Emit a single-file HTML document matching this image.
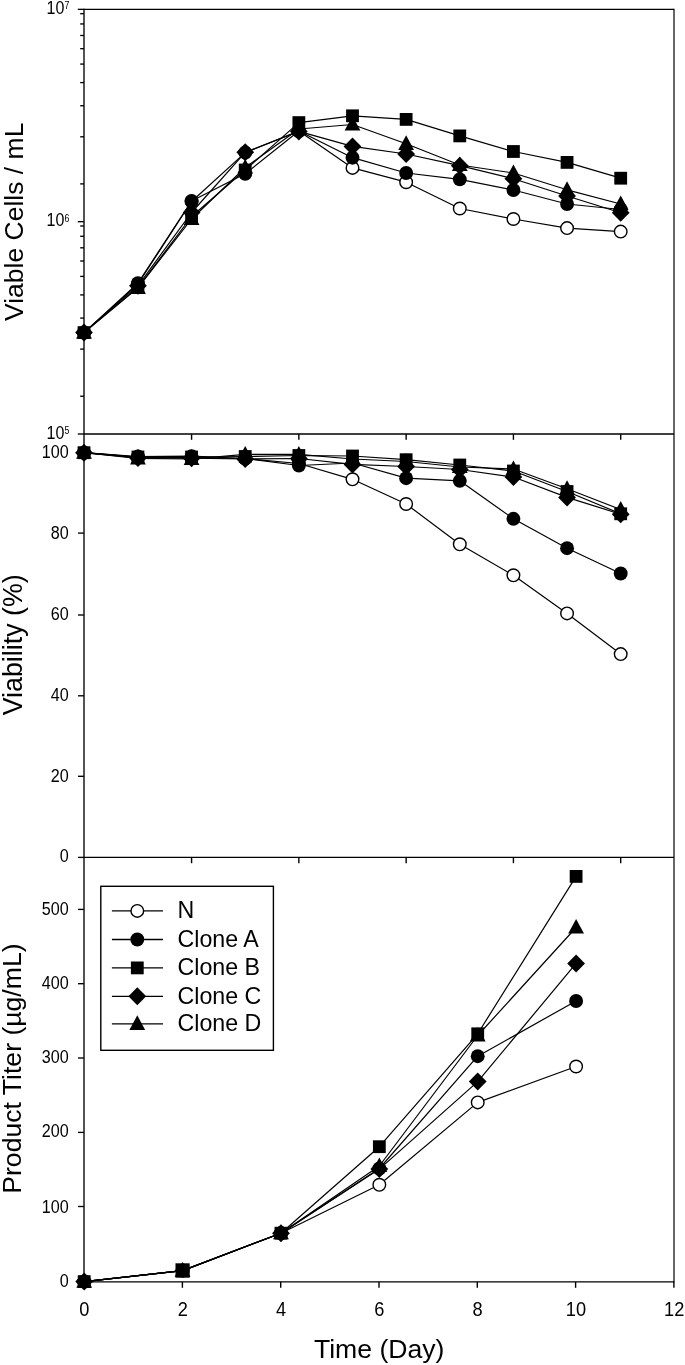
<!DOCTYPE html>
<html lang="en"><head><meta charset="utf-8"><title>Cell culture profiles</title>
<style>html,body{margin:0;padding:0;background:#fff}svg{display:block}</style></head>
<body>
<svg width="685" height="1365" viewBox="0 0 685 1365" font-family='"Liberation Sans", sans-serif' fill="#000">
<rect width="685" height="1365" fill="#fff"/>
<line x1="84" y1="9.35" x2="674" y2="9.35" stroke="#000" stroke-width="1.35" stroke-linecap="butt"/>
<line x1="84" y1="434" x2="674" y2="434" stroke="#000" stroke-width="1.35" stroke-linecap="butt"/>
<line x1="84" y1="857.4" x2="674" y2="857.4" stroke="#000" stroke-width="1.35" stroke-linecap="butt"/>
<line x1="84" y1="1281.8" x2="674" y2="1281.8" stroke="#000" stroke-width="1.35" stroke-linecap="butt"/>
<line x1="84" y1="8.85" x2="84" y2="1282.3" stroke="#000" stroke-width="1.35" stroke-linecap="butt"/>
<line x1="674" y1="8.85" x2="674" y2="1282.3" stroke="#000" stroke-width="1.2" stroke-linecap="butt"/>
<line x1="77.8" y1="434" x2="84" y2="434" stroke="#000" stroke-width="1.35" stroke-linecap="butt"/>
<line x1="77.8" y1="221.68" x2="84" y2="221.68" stroke="#000" stroke-width="1.35" stroke-linecap="butt"/>
<line x1="77.8" y1="9.35" x2="84" y2="9.35" stroke="#000" stroke-width="1.35" stroke-linecap="butt"/>
<line x1="80.2" y1="396.21" x2="84" y2="396.21" stroke="#000" stroke-width="1.35" stroke-linecap="butt"/>
<line x1="80.2" y1="349.11" x2="84" y2="349.11" stroke="#000" stroke-width="1.35" stroke-linecap="butt"/>
<line x1="80.2" y1="318.08" x2="84" y2="318.08" stroke="#000" stroke-width="1.35" stroke-linecap="butt"/>
<line x1="80.2" y1="294.91" x2="84" y2="294.91" stroke="#000" stroke-width="1.35" stroke-linecap="butt"/>
<line x1="80.2" y1="276.4" x2="84" y2="276.4" stroke="#000" stroke-width="1.35" stroke-linecap="butt"/>
<line x1="80.2" y1="261" x2="84" y2="261" stroke="#000" stroke-width="1.35" stroke-linecap="butt"/>
<line x1="80.2" y1="247.8" x2="84" y2="247.8" stroke="#000" stroke-width="1.35" stroke-linecap="butt"/>
<line x1="80.2" y1="236.26" x2="84" y2="236.26" stroke="#000" stroke-width="1.35" stroke-linecap="butt"/>
<line x1="80.2" y1="226" x2="84" y2="226" stroke="#000" stroke-width="1.35" stroke-linecap="butt"/>
<line x1="80.2" y1="183.89" x2="84" y2="183.89" stroke="#000" stroke-width="1.35" stroke-linecap="butt"/>
<line x1="80.2" y1="136.78" x2="84" y2="136.78" stroke="#000" stroke-width="1.35" stroke-linecap="butt"/>
<line x1="80.2" y1="105.76" x2="84" y2="105.76" stroke="#000" stroke-width="1.35" stroke-linecap="butt"/>
<line x1="80.2" y1="82.58" x2="84" y2="82.58" stroke="#000" stroke-width="1.35" stroke-linecap="butt"/>
<line x1="80.2" y1="64.08" x2="84" y2="64.08" stroke="#000" stroke-width="1.35" stroke-linecap="butt"/>
<line x1="80.2" y1="48.67" x2="84" y2="48.67" stroke="#000" stroke-width="1.35" stroke-linecap="butt"/>
<line x1="80.2" y1="35.48" x2="84" y2="35.48" stroke="#000" stroke-width="1.35" stroke-linecap="butt"/>
<line x1="80.2" y1="23.94" x2="84" y2="23.94" stroke="#000" stroke-width="1.35" stroke-linecap="butt"/>
<line x1="80.2" y1="13.68" x2="84" y2="13.68" stroke="#000" stroke-width="1.35" stroke-linecap="butt"/>
<line x1="191.58" y1="434" x2="191.58" y2="439.8" stroke="#000" stroke-width="1.4" stroke-linecap="butt"/>
<line x1="298.86" y1="434" x2="298.86" y2="439.8" stroke="#000" stroke-width="1.4" stroke-linecap="butt"/>
<line x1="406.14" y1="434" x2="406.14" y2="439.8" stroke="#000" stroke-width="1.4" stroke-linecap="butt"/>
<line x1="513.42" y1="434" x2="513.42" y2="439.8" stroke="#000" stroke-width="1.4" stroke-linecap="butt"/>
<line x1="620.7" y1="434" x2="620.7" y2="439.8" stroke="#000" stroke-width="1.4" stroke-linecap="butt"/>
<line x1="191.58" y1="857.4" x2="191.58" y2="863.2" stroke="#000" stroke-width="1.4" stroke-linecap="butt"/>
<line x1="298.86" y1="857.4" x2="298.86" y2="863.2" stroke="#000" stroke-width="1.4" stroke-linecap="butt"/>
<line x1="406.14" y1="857.4" x2="406.14" y2="863.2" stroke="#000" stroke-width="1.4" stroke-linecap="butt"/>
<line x1="513.42" y1="857.4" x2="513.42" y2="863.2" stroke="#000" stroke-width="1.4" stroke-linecap="butt"/>
<line x1="620.7" y1="857.4" x2="620.7" y2="863.2" stroke="#000" stroke-width="1.4" stroke-linecap="butt"/>
<line x1="84.1" y1="1281.8" x2="84.1" y2="1287.8" stroke="#000" stroke-width="1.4" stroke-linecap="butt"/>
<line x1="182.4" y1="1281.8" x2="182.4" y2="1287.8" stroke="#000" stroke-width="1.4" stroke-linecap="butt"/>
<line x1="280.7" y1="1281.8" x2="280.7" y2="1287.8" stroke="#000" stroke-width="1.4" stroke-linecap="butt"/>
<line x1="379" y1="1281.8" x2="379" y2="1287.8" stroke="#000" stroke-width="1.4" stroke-linecap="butt"/>
<line x1="477.3" y1="1281.8" x2="477.3" y2="1287.8" stroke="#000" stroke-width="1.4" stroke-linecap="butt"/>
<line x1="575.6" y1="1281.8" x2="575.6" y2="1287.8" stroke="#000" stroke-width="1.4" stroke-linecap="butt"/>
<line x1="673.9" y1="1281.8" x2="673.9" y2="1287.8" stroke="#000" stroke-width="1.4" stroke-linecap="butt"/>
<line x1="78" y1="857.4" x2="84" y2="857.4" stroke="#000" stroke-width="1.35" stroke-linecap="butt"/>
<line x1="78" y1="776.3" x2="84" y2="776.3" stroke="#000" stroke-width="1.35" stroke-linecap="butt"/>
<line x1="78" y1="695.8" x2="84" y2="695.8" stroke="#000" stroke-width="1.35" stroke-linecap="butt"/>
<line x1="78" y1="615" x2="84" y2="615" stroke="#000" stroke-width="1.35" stroke-linecap="butt"/>
<line x1="78" y1="533.1" x2="84" y2="533.1" stroke="#000" stroke-width="1.35" stroke-linecap="butt"/>
<line x1="78" y1="452.7" x2="84" y2="452.7" stroke="#000" stroke-width="1.35" stroke-linecap="butt"/>
<line x1="78" y1="1281.8" x2="84" y2="1281.8" stroke="#000" stroke-width="1.35" stroke-linecap="butt"/>
<line x1="78" y1="1206.5" x2="84" y2="1206.5" stroke="#000" stroke-width="1.35" stroke-linecap="butt"/>
<line x1="78" y1="1132.4" x2="84" y2="1132.4" stroke="#000" stroke-width="1.35" stroke-linecap="butt"/>
<line x1="78" y1="1058" x2="84" y2="1058" stroke="#000" stroke-width="1.35" stroke-linecap="butt"/>
<line x1="78" y1="983.7" x2="84" y2="983.7" stroke="#000" stroke-width="1.35" stroke-linecap="butt"/>
<line x1="78" y1="909.4" x2="84" y2="909.4" stroke="#000" stroke-width="1.35" stroke-linecap="butt"/>
<text transform="translate(68.8,862.3) scale(0.855,1)" text-anchor="end" font-size="18.9">0</text>
<text transform="translate(68.8,781.6) scale(0.855,1)" text-anchor="end" font-size="18.9">20</text>
<text transform="translate(68.8,700.8) scale(0.855,1)" text-anchor="end" font-size="18.9">40</text>
<text transform="translate(68.8,620.1) scale(0.855,1)" text-anchor="end" font-size="18.9">60</text>
<text transform="translate(68.8,539.3) scale(0.855,1)" text-anchor="end" font-size="18.9">80</text>
<text transform="translate(68.8,458.3) scale(0.855,1)" text-anchor="end" font-size="18.9">100</text>
<text transform="translate(68.8,1286.8) scale(0.855,1)" text-anchor="end" font-size="18.9">0</text>
<text transform="translate(68.8,1212.5) scale(0.855,1)" text-anchor="end" font-size="18.9">100</text>
<text transform="translate(68.8,1136.8) scale(0.855,1)" text-anchor="end" font-size="18.9">200</text>
<text transform="translate(68.8,1062.9) scale(0.855,1)" text-anchor="end" font-size="18.9">300</text>
<text transform="translate(68.8,988.6) scale(0.855,1)" text-anchor="end" font-size="18.9">400</text>
<text transform="translate(68.8,914.6) scale(0.855,1)" text-anchor="end" font-size="18.9">500</text>
<text transform="translate(64.3,438.65) scale(0.875,1)" text-anchor="end" font-size="18.3">10</text>
<text transform="translate(64.4,433.9) scale(0.83,1)" font-size="10.6">5</text>
<text transform="translate(64.3,226.33) scale(0.875,1)" text-anchor="end" font-size="18.3">10</text>
<text transform="translate(64.4,221.58) scale(0.83,1)" font-size="10.6">6</text>
<text transform="translate(64.3,14) scale(0.875,1)" text-anchor="end" font-size="18.3">10</text>
<text transform="translate(64.4,9.25) scale(0.83,1)" font-size="10.6">7</text>
<text transform="translate(84.4,1315.6) scale(0.92,1)" text-anchor="middle" font-size="19.8">0</text>
<text transform="translate(182.7,1315.6) scale(0.92,1)" text-anchor="middle" font-size="19.8">2</text>
<text transform="translate(281,1315.6) scale(0.92,1)" text-anchor="middle" font-size="19.8">4</text>
<text transform="translate(379.3,1315.6) scale(0.92,1)" text-anchor="middle" font-size="19.8">6</text>
<text transform="translate(477.6,1315.6) scale(0.92,1)" text-anchor="middle" font-size="19.8">8</text>
<text transform="translate(575.9,1315.6) scale(0.92,1)" text-anchor="middle" font-size="19.8">10</text>
<text transform="translate(674.2,1315.6) scale(0.92,1)" text-anchor="middle" font-size="19.8">12</text>
<text x="379.2" y="1357.7" text-anchor="middle" font-size="26.6">Time (Day)</text>
<text transform="translate(23.4,221.8) rotate(-90)" text-anchor="middle" font-size="26.5">Viable Cells / mL</text>
<text transform="translate(21.9,644.8) rotate(-90)" text-anchor="middle" font-size="26.8">Viability (%)</text>
<text transform="translate(21.4,1068.6) rotate(-90)" text-anchor="middle" font-size="26.6">Product Titer (µg/mL)</text>
<polyline points="84,332.6 137.94,284 191.58,201.5 245.22,152.6 298.86,131 352.5,167.9 406.14,182.2 459.78,208.5 513.42,219 567.06,228.1 620.7,231.6" fill="none" stroke="#000" stroke-width="1.2" stroke-linejoin="round"/>
<circle cx="84" cy="332.6" r="6.3" fill="#fff" stroke="#000" stroke-width="1.4"/>
<circle cx="137.94" cy="284" r="6.3" fill="#fff" stroke="#000" stroke-width="1.4"/>
<circle cx="191.58" cy="201.5" r="6.3" fill="#fff" stroke="#000" stroke-width="1.4"/>
<circle cx="245.22" cy="152.6" r="6.3" fill="#fff" stroke="#000" stroke-width="1.4"/>
<circle cx="298.86" cy="131" r="6.3" fill="#fff" stroke="#000" stroke-width="1.4"/>
<circle cx="352.5" cy="167.9" r="6.3" fill="#fff" stroke="#000" stroke-width="1.4"/>
<circle cx="406.14" cy="182.2" r="6.3" fill="#fff" stroke="#000" stroke-width="1.4"/>
<circle cx="459.78" cy="208.5" r="6.3" fill="#fff" stroke="#000" stroke-width="1.4"/>
<circle cx="513.42" cy="219" r="6.3" fill="#fff" stroke="#000" stroke-width="1.4"/>
<circle cx="567.06" cy="228.1" r="6.3" fill="#fff" stroke="#000" stroke-width="1.4"/>
<circle cx="620.7" cy="231.6" r="6.3" fill="#fff" stroke="#000" stroke-width="1.4"/>
<polyline points="84,332.6 137.94,283.2 191.58,201 245.22,173.8 298.86,131 352.5,157.7 406.14,173 459.78,179.3 513.42,190 567.06,204 620.7,209.5" fill="none" stroke="#000" stroke-width="1.2" stroke-linejoin="round"/>
<circle cx="84" cy="332.6" r="6.95" fill="#000"/>
<circle cx="137.94" cy="283.2" r="6.95" fill="#000"/>
<circle cx="191.58" cy="201" r="6.95" fill="#000"/>
<circle cx="245.22" cy="173.8" r="6.95" fill="#000"/>
<circle cx="298.86" cy="131" r="6.95" fill="#000"/>
<circle cx="352.5" cy="157.7" r="6.95" fill="#000"/>
<circle cx="406.14" cy="173" r="6.95" fill="#000"/>
<circle cx="459.78" cy="179.3" r="6.95" fill="#000"/>
<circle cx="513.42" cy="190" r="6.95" fill="#000"/>
<circle cx="567.06" cy="204" r="6.95" fill="#000"/>
<circle cx="620.7" cy="209.5" r="6.95" fill="#000"/>
<polyline points="84,332.6 137.94,287.6 191.58,216.5 245.22,170 298.86,122.6 352.5,115.8 406.14,119.4 459.78,135.9 513.42,151.5 567.06,162.4 620.7,178.2" fill="none" stroke="#000" stroke-width="1.2" stroke-linejoin="round"/>
<rect x="77.6" y="326.2" width="12.8" height="12.8" fill="#000"/>
<rect x="131.54" y="281.2" width="12.8" height="12.8" fill="#000"/>
<rect x="185.18" y="210.1" width="12.8" height="12.8" fill="#000"/>
<rect x="238.82" y="163.6" width="12.8" height="12.8" fill="#000"/>
<rect x="292.46" y="116.2" width="12.8" height="12.8" fill="#000"/>
<rect x="346.1" y="109.4" width="12.8" height="12.8" fill="#000"/>
<rect x="399.74" y="113" width="12.8" height="12.8" fill="#000"/>
<rect x="453.38" y="129.5" width="12.8" height="12.8" fill="#000"/>
<rect x="507.02" y="145.1" width="12.8" height="12.8" fill="#000"/>
<rect x="560.66" y="156" width="12.8" height="12.8" fill="#000"/>
<rect x="614.3" y="171.8" width="12.8" height="12.8" fill="#000"/>
<polyline points="84,332.6 137.94,285.8 191.58,212.5 245.22,152.3 298.86,131.4 352.5,146.4 406.14,154 459.78,165.7 513.42,178.7 567.06,196 620.7,212.7" fill="none" stroke="#000" stroke-width="1.2" stroke-linejoin="round"/>
<polygon points="84,323.6 92.9,332.6 84,341.6 75.1,332.6" fill="#000"/>
<polygon points="137.94,276.8 146.84,285.8 137.94,294.8 129.04,285.8" fill="#000"/>
<polygon points="191.58,203.5 200.48,212.5 191.58,221.5 182.68,212.5" fill="#000"/>
<polygon points="245.22,143.3 254.12,152.3 245.22,161.3 236.32,152.3" fill="#000"/>
<polygon points="298.86,122.4 307.76,131.4 298.86,140.4 289.96,131.4" fill="#000"/>
<polygon points="352.5,137.4 361.4,146.4 352.5,155.4 343.6,146.4" fill="#000"/>
<polygon points="406.14,145 415.04,154 406.14,163 397.24,154" fill="#000"/>
<polygon points="459.78,156.7 468.68,165.7 459.78,174.7 450.88,165.7" fill="#000"/>
<polygon points="513.42,169.7 522.32,178.7 513.42,187.7 504.52,178.7" fill="#000"/>
<polygon points="567.06,187 575.96,196 567.06,205 558.16,196" fill="#000"/>
<polygon points="620.7,203.7 629.6,212.7 620.7,221.7 611.8,212.7" fill="#000"/>
<polyline points="84,332.6 137.94,287.8 191.58,219 245.22,167.5 298.86,129 352.5,124.5 406.14,143.8 459.78,165 513.42,173 567.06,189.8 620.7,204" fill="none" stroke="#000" stroke-width="1.2" stroke-linejoin="round"/>
<polygon points="84,324.1 91.9,338.7 76.1,338.7" fill="#000"/>
<polygon points="137.94,279.3 145.84,293.9 130.04,293.9" fill="#000"/>
<polygon points="191.58,210.5 199.48,225.1 183.68,225.1" fill="#000"/>
<polygon points="245.22,159 253.12,173.6 237.32,173.6" fill="#000"/>
<polygon points="298.86,120.5 306.76,135.1 290.96,135.1" fill="#000"/>
<polygon points="352.5,116 360.4,130.6 344.6,130.6" fill="#000"/>
<polygon points="406.14,135.3 414.04,149.9 398.24,149.9" fill="#000"/>
<polygon points="459.78,156.5 467.68,171.1 451.88,171.1" fill="#000"/>
<polygon points="513.42,164.5 521.32,179.1 505.52,179.1" fill="#000"/>
<polygon points="567.06,181.3 574.96,195.9 559.16,195.9" fill="#000"/>
<polygon points="620.7,195.5 628.6,210.1 612.8,210.1" fill="#000"/>
<polyline points="84,452.7 137.94,457.4 191.58,457.6 245.22,458.5 298.86,463.5 352.5,479.3 406.14,504 459.78,544.3 513.42,575.3 567.06,613.4 620.7,654.1" fill="none" stroke="#000" stroke-width="1.2" stroke-linejoin="round"/>
<circle cx="84" cy="452.7" r="6.3" fill="#fff" stroke="#000" stroke-width="1.4"/>
<circle cx="137.94" cy="457.4" r="6.3" fill="#fff" stroke="#000" stroke-width="1.4"/>
<circle cx="191.58" cy="457.6" r="6.3" fill="#fff" stroke="#000" stroke-width="1.4"/>
<circle cx="245.22" cy="458.5" r="6.3" fill="#fff" stroke="#000" stroke-width="1.4"/>
<circle cx="298.86" cy="463.5" r="6.3" fill="#fff" stroke="#000" stroke-width="1.4"/>
<circle cx="352.5" cy="479.3" r="6.3" fill="#fff" stroke="#000" stroke-width="1.4"/>
<circle cx="406.14" cy="504" r="6.3" fill="#fff" stroke="#000" stroke-width="1.4"/>
<circle cx="459.78" cy="544.3" r="6.3" fill="#fff" stroke="#000" stroke-width="1.4"/>
<circle cx="513.42" cy="575.3" r="6.3" fill="#fff" stroke="#000" stroke-width="1.4"/>
<circle cx="567.06" cy="613.4" r="6.3" fill="#fff" stroke="#000" stroke-width="1.4"/>
<circle cx="620.7" cy="654.1" r="6.3" fill="#fff" stroke="#000" stroke-width="1.4"/>
<polyline points="84,452.7 137.94,456.5 191.58,456.2 245.22,458.5 298.86,465.5 352.5,463 406.14,478.2 459.78,480.8 513.42,518.8 567.06,548.2 620.7,573.5" fill="none" stroke="#000" stroke-width="1.2" stroke-linejoin="round"/>
<circle cx="84" cy="452.7" r="6.95" fill="#000"/>
<circle cx="137.94" cy="456.5" r="6.95" fill="#000"/>
<circle cx="191.58" cy="456.2" r="6.95" fill="#000"/>
<circle cx="245.22" cy="458.5" r="6.95" fill="#000"/>
<circle cx="298.86" cy="465.5" r="6.95" fill="#000"/>
<circle cx="352.5" cy="463" r="6.95" fill="#000"/>
<circle cx="406.14" cy="478.2" r="6.95" fill="#000"/>
<circle cx="459.78" cy="480.8" r="6.95" fill="#000"/>
<circle cx="513.42" cy="518.8" r="6.95" fill="#000"/>
<circle cx="567.06" cy="548.2" r="6.95" fill="#000"/>
<circle cx="620.7" cy="573.5" r="6.95" fill="#000"/>
<polyline points="84,452.7 137.94,457 191.58,457 245.22,456.5 298.86,455.5 352.5,456 406.14,459.7 459.78,465 513.42,471 567.06,491.5 620.7,513.8" fill="none" stroke="#000" stroke-width="1.2" stroke-linejoin="round"/>
<rect x="77.6" y="446.3" width="12.8" height="12.8" fill="#000"/>
<rect x="131.54" y="450.6" width="12.8" height="12.8" fill="#000"/>
<rect x="185.18" y="450.6" width="12.8" height="12.8" fill="#000"/>
<rect x="238.82" y="450.1" width="12.8" height="12.8" fill="#000"/>
<rect x="292.46" y="449.1" width="12.8" height="12.8" fill="#000"/>
<rect x="346.1" y="449.6" width="12.8" height="12.8" fill="#000"/>
<rect x="399.74" y="453.3" width="12.8" height="12.8" fill="#000"/>
<rect x="453.38" y="458.6" width="12.8" height="12.8" fill="#000"/>
<rect x="507.02" y="464.6" width="12.8" height="12.8" fill="#000"/>
<rect x="560.66" y="485.1" width="12.8" height="12.8" fill="#000"/>
<rect x="614.3" y="507.4" width="12.8" height="12.8" fill="#000"/>
<polyline points="84,452.7 137.94,457.9 191.58,458.2 245.22,459 298.86,458.5 352.5,464.4 406.14,466.5 459.78,469.5 513.42,477 567.06,497.4 620.7,514.2" fill="none" stroke="#000" stroke-width="1.2" stroke-linejoin="round"/>
<polygon points="84,443.7 92.9,452.7 84,461.7 75.1,452.7" fill="#000"/>
<polygon points="137.94,448.9 146.84,457.9 137.94,466.9 129.04,457.9" fill="#000"/>
<polygon points="191.58,449.2 200.48,458.2 191.58,467.2 182.68,458.2" fill="#000"/>
<polygon points="245.22,450 254.12,459 245.22,468 236.32,459" fill="#000"/>
<polygon points="298.86,449.5 307.76,458.5 298.86,467.5 289.96,458.5" fill="#000"/>
<polygon points="352.5,455.4 361.4,464.4 352.5,473.4 343.6,464.4" fill="#000"/>
<polygon points="406.14,457.5 415.04,466.5 406.14,475.5 397.24,466.5" fill="#000"/>
<polygon points="459.78,460.5 468.68,469.5 459.78,478.5 450.88,469.5" fill="#000"/>
<polygon points="513.42,468 522.32,477 513.42,486 504.52,477" fill="#000"/>
<polygon points="567.06,488.4 575.96,497.4 567.06,506.4 558.16,497.4" fill="#000"/>
<polygon points="620.7,505.2 629.6,514.2 620.7,523.2 611.8,514.2" fill="#000"/>
<polyline points="84,452.7 137.94,458.4 191.58,459 245.22,454.4 298.86,454.4 352.5,459 406.14,461.5 459.78,467 513.42,469 567.06,488.7 620.7,509.5" fill="none" stroke="#000" stroke-width="1.2" stroke-linejoin="round"/>
<polygon points="84,444.2 91.9,458.8 76.1,458.8" fill="#000"/>
<polygon points="137.94,449.9 145.84,464.5 130.04,464.5" fill="#000"/>
<polygon points="191.58,450.5 199.48,465.1 183.68,465.1" fill="#000"/>
<polygon points="245.22,445.9 253.12,460.5 237.32,460.5" fill="#000"/>
<polygon points="298.86,445.9 306.76,460.5 290.96,460.5" fill="#000"/>
<polygon points="352.5,450.5 360.4,465.1 344.6,465.1" fill="#000"/>
<polygon points="406.14,453 414.04,467.6 398.24,467.6" fill="#000"/>
<polygon points="459.78,458.5 467.68,473.1 451.88,473.1" fill="#000"/>
<polygon points="513.42,460.5 521.32,475.1 505.52,475.1" fill="#000"/>
<polygon points="567.06,480.2 574.96,494.8 559.16,494.8" fill="#000"/>
<polygon points="620.7,501 628.6,515.6 612.8,515.6" fill="#000"/>
<polyline points="84.2,1281.6 182.58,1270.6 280.96,1233.2 379.34,1184.8 477.72,1102.4 576.1,1066.5" fill="none" stroke="#000" stroke-width="1.2" stroke-linejoin="round"/>
<circle cx="84.2" cy="1281.6" r="6.3" fill="#fff" stroke="#000" stroke-width="1.4"/>
<circle cx="182.58" cy="1270.6" r="6.3" fill="#fff" stroke="#000" stroke-width="1.4"/>
<circle cx="280.96" cy="1233.2" r="6.3" fill="#fff" stroke="#000" stroke-width="1.4"/>
<circle cx="379.34" cy="1184.8" r="6.3" fill="#fff" stroke="#000" stroke-width="1.4"/>
<circle cx="477.72" cy="1102.4" r="6.3" fill="#fff" stroke="#000" stroke-width="1.4"/>
<circle cx="576.1" cy="1066.5" r="6.3" fill="#fff" stroke="#000" stroke-width="1.4"/>
<polyline points="84.2,1281.6 182.58,1270.6 280.96,1233.2 379.34,1168.5 477.72,1056.2 576.1,1001" fill="none" stroke="#000" stroke-width="1.2" stroke-linejoin="round"/>
<circle cx="84.2" cy="1281.6" r="6.95" fill="#000"/>
<circle cx="182.58" cy="1270.6" r="6.95" fill="#000"/>
<circle cx="280.96" cy="1233.2" r="6.95" fill="#000"/>
<circle cx="379.34" cy="1168.5" r="6.95" fill="#000"/>
<circle cx="477.72" cy="1056.2" r="6.95" fill="#000"/>
<circle cx="576.1" cy="1001" r="6.95" fill="#000"/>
<polyline points="84.2,1281.6 182.58,1270.6 280.96,1233.2 379.34,1146.7 477.72,1033.8 576.1,876.4" fill="none" stroke="#000" stroke-width="1.2" stroke-linejoin="round"/>
<rect x="77.8" y="1275.2" width="12.8" height="12.8" fill="#000"/>
<rect x="176.18" y="1264.2" width="12.8" height="12.8" fill="#000"/>
<rect x="274.56" y="1226.8" width="12.8" height="12.8" fill="#000"/>
<rect x="372.94" y="1140.3" width="12.8" height="12.8" fill="#000"/>
<rect x="471.32" y="1027.4" width="12.8" height="12.8" fill="#000"/>
<rect x="569.7" y="870" width="12.8" height="12.8" fill="#000"/>
<polyline points="84.2,1281.6 182.58,1270.6 280.96,1233.2 379.34,1169.1 477.72,1081.6 576.1,963.4" fill="none" stroke="#000" stroke-width="1.2" stroke-linejoin="round"/>
<polygon points="84.2,1272.6 93.1,1281.6 84.2,1290.6 75.3,1281.6" fill="#000"/>
<polygon points="280.96,1224.2 289.86,1233.2 280.96,1242.2 272.06,1233.2" fill="#000"/>
<polygon points="379.34,1160.1 388.24,1169.1 379.34,1178.1 370.44,1169.1" fill="#000"/>
<polygon points="477.72,1072.6 486.62,1081.6 477.72,1090.6 468.82,1081.6" fill="#000"/>
<polygon points="576.1,954.4 585,963.4 576.1,972.4 567.2,963.4" fill="#000"/>
<polyline points="84.2,1281.6 182.58,1270.6 280.96,1233.2 379.34,1166 477.72,1035.5 576.1,927.5" fill="none" stroke="#000" stroke-width="1.2" stroke-linejoin="round"/>
<polygon points="84.2,1273.1 92.1,1287.7 76.3,1287.7" fill="#000"/>
<polygon points="182.58,1262.1 190.48,1276.7 174.68,1276.7" fill="#000"/>
<polygon points="280.96,1224.7 288.86,1239.3 273.06,1239.3" fill="#000"/>
<polygon points="379.34,1157.5 387.24,1172.1 371.44,1172.1" fill="#000"/>
<polygon points="477.72,1027 485.62,1041.6 469.82,1041.6" fill="#000"/>
<polygon points="576.1,919 584,933.6 568.2,933.6" fill="#000"/>
<rect x="175.48" y="1263.3" width="14.2" height="14.4" fill="#000"/>
<rect x="100.8" y="886.3" width="172.6" height="164" fill="#fff" stroke="#000" stroke-width="1.4"/>
<line x1="111.9" y1="910.9" x2="163" y2="910.9" stroke="#000" stroke-width="1.3" stroke-linecap="butt"/>
<circle cx="137.3" cy="910.9" r="6.3" fill="#fff" stroke="#000" stroke-width="1.4"/>
<text x="177.5" y="917.5" font-size="23.2">N</text>
<line x1="111.9" y1="939.5" x2="163" y2="939.5" stroke="#000" stroke-width="1.3" stroke-linecap="butt"/>
<circle cx="137.3" cy="939.5" r="6.95" fill="#000"/>
<text x="177.5" y="946.6" font-size="23.2">Clone A</text>
<line x1="111.9" y1="967.9" x2="163" y2="967.9" stroke="#000" stroke-width="1.3" stroke-linecap="butt"/>
<rect x="130.9" y="961.5" width="12.8" height="12.8" fill="#000"/>
<text x="177.5" y="975.2" font-size="23.2">Clone B</text>
<line x1="111.9" y1="996.3" x2="163" y2="996.3" stroke="#000" stroke-width="1.3" stroke-linecap="butt"/>
<polygon points="137.3,987.3 146.2,996.3 137.3,1005.3 128.4,996.3" fill="#000"/>
<text x="177.5" y="1003.5" font-size="23.2">Clone C</text>
<line x1="111.9" y1="1023.8" x2="163" y2="1023.8" stroke="#000" stroke-width="1.3" stroke-linecap="butt"/>
<polygon points="137.3,1015.3 145.2,1029.9 129.4,1029.9" fill="#000"/>
<text x="177.5" y="1031.3" font-size="23.2">Clone D</text>
</svg>
</body></html>
